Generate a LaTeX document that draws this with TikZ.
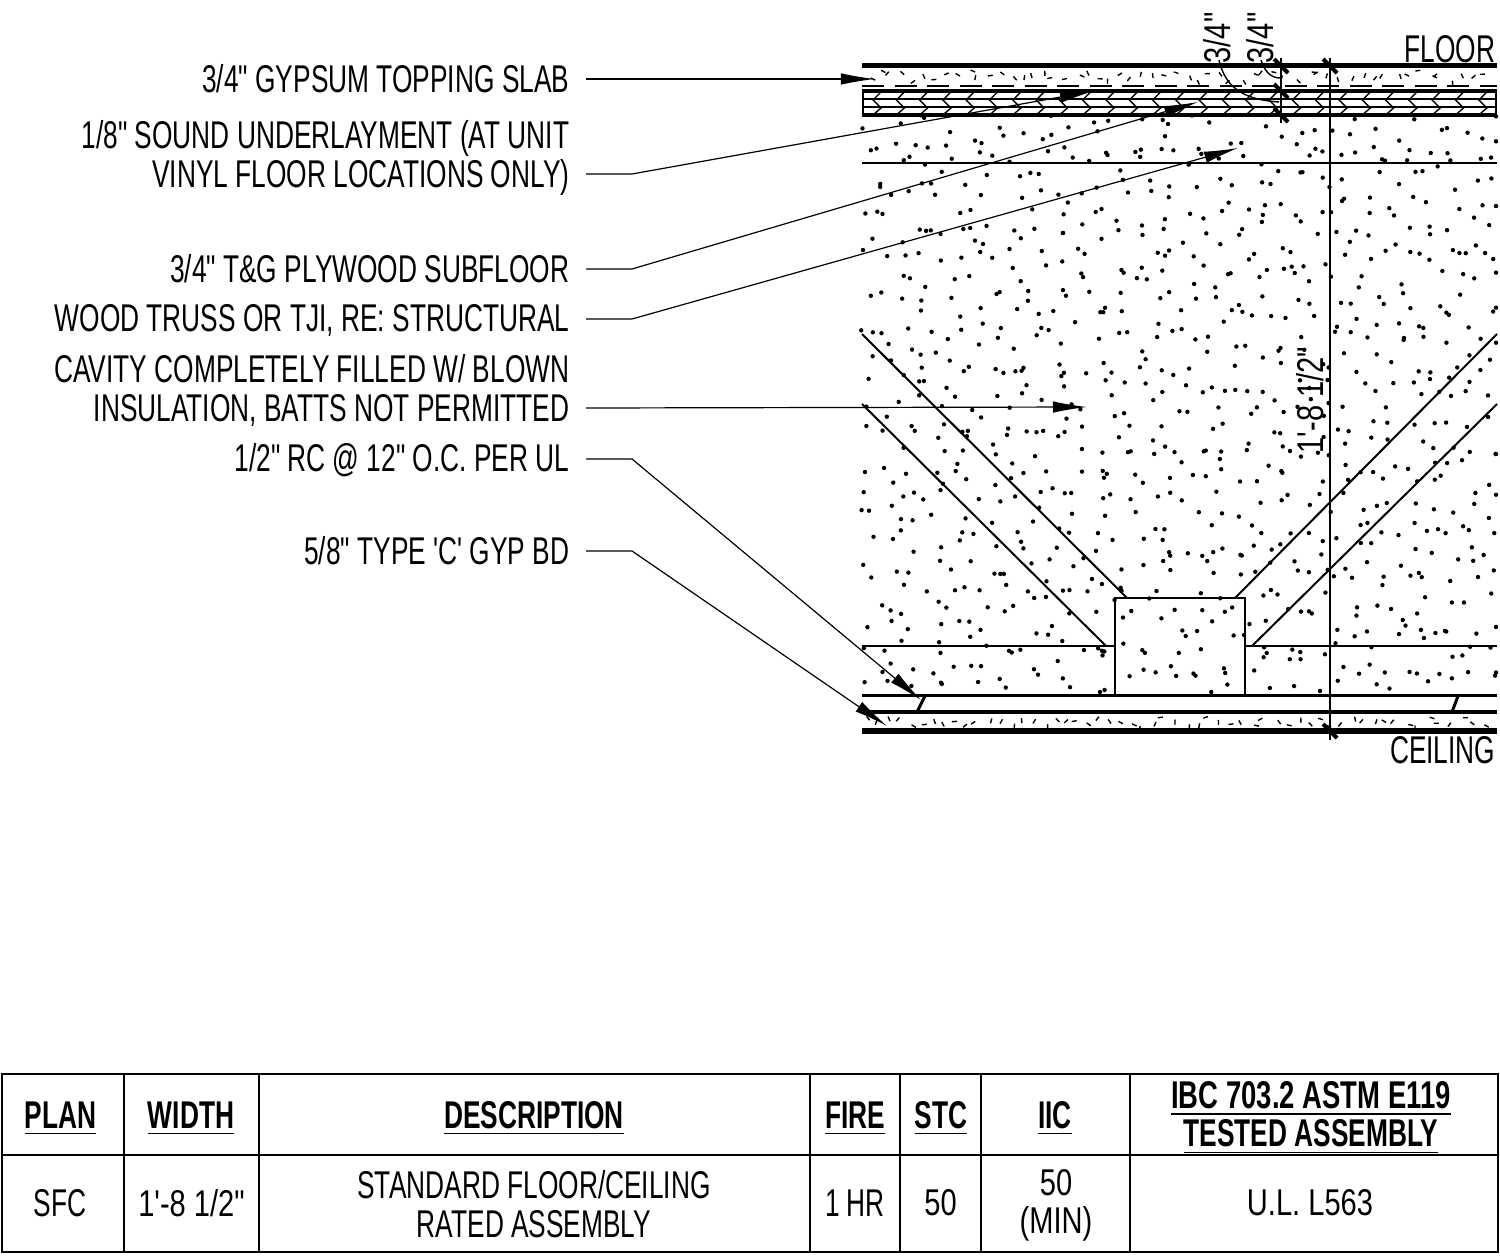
\documentclass[tikz,border=0pt]{standalone}
\usepackage{fontspec}
\newfontfamily\notefont[FakeStretch=0.68]{Liberation Sans}
\newfontfamily\widefont[FakeStretch=0.78]{Liberation Sans}
\newfontfamily\ibcfont[FakeStretch=0.71]{Liberation Sans}
\usetikzlibrary{arrows.meta}
\tikzset{
  note/.style={anchor=east, inner sep=0pt, align=right, font=\fontsize{11}{11}\selectfont\notefont},
  word/.style={inner sep=0pt, align=center, font=\fontsize{11}{10.9}\selectfont\notefont},
  head/.style={inner sep=0pt, align=center, font=\fontsize{11}{10.9}\selectfont\notefont\bfseries},
  numeral/.style={inner sep=0pt, align=center, font=\fontsize{10.6}{10.9}\selectfont\widefont},
  rule line/.style={line width=0.025cm},
  leader/.style={line width=0.012cm, -{Latex[length=0.34cm,width=0.115cm]}},
  heavy/.style={line width=0.05cm},
  medium/.style={line width=0.03cm},
  thin line/.style={line width=0.014cm},
  slash/.style={line width=0.04cm}
}
\begin{document}
\begin{tikzpicture}[x=0.01cm,y=-0.01cm]
\useasboundingbox (0,0) rectangle (1500,1258);

% insulation dots
\pgfmathsetseed{4213}
\foreach \gx in {872,892,...,1497}
  \foreach \gy in {122,142,...,694}{
    \pgfmathsetmacro{\dotx}{min(1496,\gx+rnd*24-12)}
    \pgfmathsetmacro{\doty}{min(692,\gy+rnd*24-12)}
    \fill (\dotx,\doty) circle (2.2);
  }
\fill[white] (862,66) rectangle (1497,116);
\fill[white] (862,696) rectangle (1497,735);

% gypsum ticks
\foreach \gx in {868,879,...,1490}{
  \pgfmathsetmacro{\tx}{\gx+rnd*8-4}
  \pgfmathsetmacro{\ty}{70+rnd*11}
  \pgfmathsetmacro{\ta}{rnd*180}
  \draw[thin line] (\tx,\ty) -- ++(\ta:5);
}
\foreach \gx in {868,879,...,1490}{
  \pgfmathsetmacro{\tx}{\gx+rnd*8-4}
  \pgfmathsetmacro{\ty}{716+rnd*10}
  \pgfmathsetmacro{\ta}{rnd*180}
  \draw[thin line] (\tx,\ty) -- ++(\ta:5);
}

% floor layers
\draw[heavy] (862,66) -- (1497,66);
\draw[line width=0.024cm, dash pattern=on 0.22cm off 0.105cm] (862,86) -- (1497,86);
\draw[line width=0.04cm] (862,91) -- (1497,91);
\draw[thin line] (862,99) -- (1497,99);
\draw[thin line] (862,107) -- (1497,107);
\draw[line width=0.035cm] (862,115) -- (1497,115);
\draw[thin line] (863,91) -- (863,115);
\draw[thin line] (1496,91) -- (1496,115);
\foreach \cx in {873,896.3,...,1490}
  \draw[thin line] (\cx+8,92) -- (\cx,100) -- (\cx+8,108) -- (\cx,115);
\draw[line width=0.018cm] (862,163) -- (1497,163);

% truss
\draw[line width=0.018cm] (862,646) -- (1115,646);
\draw[line width=0.018cm] (1245,646) -- (1497,646);
\draw[line width=0.02cm] (862,334) -- (1127,598);
\draw[line width=0.02cm] (862,404) -- (1106,646);
\draw[line width=0.02cm] (1497,334) -- (1235,598);
\draw[line width=0.02cm] (1497,404) -- (1252,646);
\draw[line width=0.02cm] (1115,695) -- (1115,598) -- (1245,598) -- (1245,695);

% ceiling layers
\draw[medium] (862,695) -- (1497,695);
\draw[line width=0.035cm] (862,712) -- (1497,712);
\draw[line width=0.055cm] (862,731) -- (1497,731);
\draw[medium] (925,696) -- (917,712);
\draw[medium] (1458,696) -- (1452,712);

% dimensions
\draw[thin line] (1281,58) -- (1281,123);
\draw[thin line] (1330,58) -- (1330,740);
\foreach \sx/\sy in {1281/66,1281/91,1281/115,1330/66,1330/731}
  \draw[slash] (\sx-7,\sy-7) -- (\sx+7,\sy+7);
\draw[thin line] (1219,60) .. controls (1226,92) and (1250,100) .. (1279,102);
\draw[thin line] (1261,60) .. controls (1264,70) and (1270,78) .. (1280,78);

\node[numeral, rotate=90] (dimA) at (1217,38) {3/4"};
\node[numeral, rotate=90] (dimB) at (1260,38) {3/4"};
\node[numeral, rotate=90] (dimC) at (1310,400) {1'-8 1/2"};
\node[word, anchor=east] (floor) at (1496,49) {FLOOR};
\node[word, anchor=east] (ceiling) at (1496,750) {CEILING};

% notes
\node[note] (slab) at (570,79) {3/4" GYPSUM TOPPING SLAB};
\node[note] (under) at (570,158) {1/8" SOUND UNDERLAYMENT (AT UNIT\\VINYL FLOOR LOCATIONS ONLY)};
\node[note] (ply) at (570,269) {3/4" T\&G PLYWOOD SUBFLOOR};
\node[note] (truss) at (570,320) {WOOD TRUSS OR TJI, RE: STRUCTURAL};
\node[note] (cavity) at (570,390.5) {CAVITY COMPLETELY FILLED W/ BLOWN\\INSULATION, BATTS NOT PERMITTED};
\node[note] (rc) at (570,460) {1/2" RC @ 12" O.C. PER UL};
\node[note] (gyp) at (570,551) {5/8" TYPE 'C' GYP BD};

\coordinate (slabtip) at (875,79);
\coordinate (undertip) at (1094,91);
\coordinate (plytip) at (1198,102);
\coordinate (trusstip) at (1238,148);
\coordinate (cavitytip) at (1087,407);
\coordinate (rctip) at (921,700);
\coordinate (gyptip) at (887,726);

\draw[leader] ([xshift=0.16cm]slab.east) -- (slabtip);
\draw[leader] ([xshift=0.16cm,yshift=-0.16cm]under.east) -- ++(46,0) -- (undertip);
\draw[leader] ([xshift=0.16cm]ply.east) -- ++(46,0) -- (plytip);
\draw[leader] ([xshift=0.16cm,yshift=0.01cm]truss.east) -- ++(46,0) -- (trusstip);
\draw[leader] ([xshift=0.16cm,yshift=-0.175cm]cavity.east) -- (cavitytip);
\draw[leader] ([xshift=0.16cm,yshift=0.01cm]rc.east) -- ++(46,0) -- (rctip);
\draw[leader] ([xshift=0.16cm]gyp.east) -- ++(46,0) -- (gyptip);

% schedule table
\draw[rule line] (2,1074) rectangle (1498,1252);
\draw[rule line] (2,1155) -- (1498,1155);
\foreach \rx in {124,259,810,900,981,1130}
  \draw[rule line] (\rx,1074) -- (\rx,1252);

\node[head] (hplan) at (60.5,1118.5) {\underline{PLAN}};
\node[head] (hwidth) at (191,1118.5) {\underline{WIDTH}};
\node[head] (hdesc) at (534,1118.5) {\underline{DESCRIPTION}};
\node[head] (hfire) at (855,1118.5) {\underline{FIRE}};
\node[head] (hstc) at (941,1118.5) {\underline{STC}};
\node[head] (hiic) at (1055,1118.5) {\underline{IIC}};
\node[head] (hibc) at (1311,1118) {\underline{\ibcfont\bfseries IBC 703.2 ASTM E119}\\\underline{TESTED ASSEMBLY}};
\node[word] (bplan) at (60,1203) {SFC};
\node[numeral] (bwidth) at (191.5,1203) {1'-8 1/2"};
\node[word] (bdesc) at (534,1204) {STANDARD FLOOR/CEILING\\RATED ASSEMBLY};
\node[word] (bfire) at (855,1203) {1 HR};
\node[numeral] (bstc) at (940.5,1203) {50};
\node[numeral] (biic) at (1056,1205) {50\\(MIN)};
\node[numeral] (bibc) at (1310,1203) {U.L. L563};
\end{tikzpicture}
\end{document}
